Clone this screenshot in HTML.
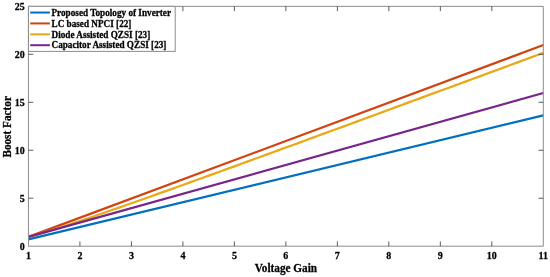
<!DOCTYPE html>
<html><head><meta charset="utf-8"><title>Boost Factor vs Voltage Gain</title><style>
html,body{margin:0;padding:0;background:#fff;overflow:hidden;}
svg{display:block;}
text{font-family:"Liberation Serif","Times New Roman",serif;font-weight:bold;fill:#000;stroke:#000;stroke-width:0.25px;}
.tk{font-size:10px;}
.lb{font-size:11.25px;}
.lg{font-size:9.2px;}
</style></head><body>
<svg width="550" height="277" viewBox="0 0 550 277">
<rect x="0" y="0" width="550" height="277" fill="#fff"/>
<line x1="28.45" y1="239.40" x2="543.30" y2="115.45" stroke="#006FBF" stroke-width="2.25"/>
<line x1="28.45" y1="236.91" x2="543.30" y2="45.03" stroke="#D2430F" stroke-width="2.25"/>
<polyline points="28.45,236.91 34.89,235.15 41.32,233.30 47.76,231.37 54.19,229.39 60.63,227.36 67.06,225.28 73.50,223.18 79.93,221.04 86.37,218.88 92.81,216.70 99.24,214.50 105.68,212.29 112.11,210.06 118.55,207.82 124.98,205.56 131.42,203.30 137.86,201.03 144.29,198.75 150.73,196.46 157.16,194.17 163.60,191.87 170.03,189.57 176.47,187.26 182.90,184.95 189.34,182.63 195.78,180.31 202.21,177.99 208.65,175.66 215.08,173.33 221.52,171.00 227.95,168.66 234.39,166.32 240.83,163.98 247.26,161.64 253.70,159.29 260.13,156.95 266.57,154.60 273.00,152.25 279.44,149.90 285.87,147.55 292.31,145.19 298.75,142.84 305.18,140.48 311.62,138.13 318.05,135.77 324.49,133.41 330.92,131.05 337.36,128.69 343.80,126.32 350.23,123.96 356.67,121.60 363.10,119.23 369.54,116.87 375.97,114.50 382.41,112.13 388.84,109.77 395.28,107.40 401.72,105.03 408.15,102.66 414.59,100.29 421.02,97.92 427.46,95.55 433.89,93.18 440.33,90.81 446.77,88.44 453.20,86.07 459.64,83.69 466.07,81.32 472.51,78.95 478.94,76.57 485.38,74.20 491.81,71.83 498.25,69.45 504.69,67.08 511.12,64.70 517.56,62.33 523.99,59.95 530.43,57.57 536.86,55.20 543.30,52.82" fill="none" stroke="#EAA716" stroke-width="2.25" stroke-linejoin="round"/>
<line x1="28.45" y1="236.91" x2="543.30" y2="93.00" stroke="#772589" stroke-width="2.25"/>
<path d="M28.45,6.35 H543.3 V246.2 H28.45 Z" fill="none" stroke="#8c8c8c" stroke-width="1"/>
<text transform="translate(28.45,259.2) scale(1,1.05)" text-anchor="middle" class="tk">1</text>
<line x1="79.93" y1="246.2" x2="79.93" y2="241.39999999999998" stroke="#4a4a4a" stroke-width="0.9"/>
<line x1="79.93" y1="6.35" x2="79.93" y2="11.149999999999999" stroke="#4a4a4a" stroke-width="0.9"/>
<text transform="translate(79.93,259.2) scale(1,1.05)" text-anchor="middle" class="tk">2</text>
<line x1="131.42" y1="246.2" x2="131.42" y2="241.39999999999998" stroke="#4a4a4a" stroke-width="0.9"/>
<line x1="131.42" y1="6.35" x2="131.42" y2="11.149999999999999" stroke="#4a4a4a" stroke-width="0.9"/>
<text transform="translate(131.42,259.2) scale(1,1.05)" text-anchor="middle" class="tk">3</text>
<line x1="182.90" y1="246.2" x2="182.90" y2="241.39999999999998" stroke="#4a4a4a" stroke-width="0.9"/>
<line x1="182.90" y1="6.35" x2="182.90" y2="11.149999999999999" stroke="#4a4a4a" stroke-width="0.9"/>
<text transform="translate(182.90,259.2) scale(1,1.05)" text-anchor="middle" class="tk">4</text>
<line x1="234.39" y1="246.2" x2="234.39" y2="241.39999999999998" stroke="#4a4a4a" stroke-width="0.9"/>
<line x1="234.39" y1="6.35" x2="234.39" y2="11.149999999999999" stroke="#4a4a4a" stroke-width="0.9"/>
<text transform="translate(234.39,259.2) scale(1,1.05)" text-anchor="middle" class="tk">5</text>
<line x1="285.87" y1="246.2" x2="285.87" y2="241.39999999999998" stroke="#4a4a4a" stroke-width="0.9"/>
<line x1="285.87" y1="6.35" x2="285.87" y2="11.149999999999999" stroke="#4a4a4a" stroke-width="0.9"/>
<text transform="translate(285.87,259.2) scale(1,1.05)" text-anchor="middle" class="tk">6</text>
<line x1="337.36" y1="246.2" x2="337.36" y2="241.39999999999998" stroke="#4a4a4a" stroke-width="0.9"/>
<line x1="337.36" y1="6.35" x2="337.36" y2="11.149999999999999" stroke="#4a4a4a" stroke-width="0.9"/>
<text transform="translate(337.36,259.2) scale(1,1.05)" text-anchor="middle" class="tk">7</text>
<line x1="388.84" y1="246.2" x2="388.84" y2="241.39999999999998" stroke="#4a4a4a" stroke-width="0.9"/>
<line x1="388.84" y1="6.35" x2="388.84" y2="11.149999999999999" stroke="#4a4a4a" stroke-width="0.9"/>
<text transform="translate(388.84,259.2) scale(1,1.05)" text-anchor="middle" class="tk">8</text>
<line x1="440.33" y1="246.2" x2="440.33" y2="241.39999999999998" stroke="#4a4a4a" stroke-width="0.9"/>
<line x1="440.33" y1="6.35" x2="440.33" y2="11.149999999999999" stroke="#4a4a4a" stroke-width="0.9"/>
<text transform="translate(440.33,259.2) scale(1,1.05)" text-anchor="middle" class="tk">9</text>
<line x1="491.81" y1="246.2" x2="491.81" y2="241.39999999999998" stroke="#4a4a4a" stroke-width="0.9"/>
<line x1="491.81" y1="6.35" x2="491.81" y2="11.149999999999999" stroke="#4a4a4a" stroke-width="0.9"/>
<text transform="translate(491.81,259.2) scale(1,1.05)" text-anchor="middle" class="tk">10</text>
<text transform="translate(543.30,259.2) scale(1,1.05)" text-anchor="middle" class="tk">11</text>
<text transform="translate(24.8,249.60) scale(1,1.05)" text-anchor="end" class="tk">0</text>
<line x1="28.45" y1="198.23" x2="33.25" y2="198.23" stroke="#4a4a4a" stroke-width="0.9"/>
<line x1="543.3" y1="198.23" x2="538.5" y2="198.23" stroke="#4a4a4a" stroke-width="0.9"/>
<text transform="translate(24.8,201.63) scale(1,1.05)" text-anchor="end" class="tk">5</text>
<line x1="28.45" y1="150.26" x2="33.25" y2="150.26" stroke="#4a4a4a" stroke-width="0.9"/>
<line x1="543.3" y1="150.26" x2="538.5" y2="150.26" stroke="#4a4a4a" stroke-width="0.9"/>
<text transform="translate(24.8,153.66) scale(1,1.05)" text-anchor="end" class="tk">10</text>
<line x1="28.45" y1="102.29" x2="33.25" y2="102.29" stroke="#4a4a4a" stroke-width="0.9"/>
<line x1="543.3" y1="102.29" x2="538.5" y2="102.29" stroke="#4a4a4a" stroke-width="0.9"/>
<text transform="translate(24.8,105.69) scale(1,1.05)" text-anchor="end" class="tk">15</text>
<line x1="28.45" y1="54.32" x2="33.25" y2="54.32" stroke="#4a4a4a" stroke-width="0.9"/>
<line x1="543.3" y1="54.32" x2="538.5" y2="54.32" stroke="#4a4a4a" stroke-width="0.9"/>
<text transform="translate(24.8,57.72) scale(1,1.05)" text-anchor="end" class="tk">20</text>
<text transform="translate(24.8,9.75) scale(1,1.05)" text-anchor="end" class="tk">25</text>
<text transform="translate(285.88,272.4) scale(1,1.1)" text-anchor="middle" class="lb">Voltage Gain</text>
<text transform="translate(11.0,126.87) rotate(-90) scale(1,1.1)" x="0" y="0" text-anchor="middle" class="lb">Boost Factor</text>
<rect x="28.45" y="6.35" width="146.75" height="45.05" fill="#fff" stroke="#8c8c8c" stroke-width="1"/>
<line x1="30.2" y1="12.54" x2="49.9" y2="12.54" stroke="#006FBF" stroke-width="2"/>
<text transform="translate(51.5,15.74) scale(1,1.1)" class="lg">Proposed Topology of Inverter</text>
<line x1="30.2" y1="23.43" x2="49.9" y2="23.43" stroke="#D2430F" stroke-width="2"/>
<text transform="translate(51.5,26.63) scale(1,1.1)" class="lg">LC based NPCI [22]</text>
<line x1="30.2" y1="34.32" x2="49.9" y2="34.32" stroke="#EAA716" stroke-width="2"/>
<text transform="translate(51.5,37.52) scale(1,1.1)" class="lg">Diode Assisted QZSI [23]</text>
<line x1="30.2" y1="45.21" x2="49.9" y2="45.21" stroke="#772589" stroke-width="2"/>
<text transform="translate(51.5,48.41) scale(1,1.1)" class="lg">Capacitor Assisted QZSI [23]</text>
</svg>
</body></html>
